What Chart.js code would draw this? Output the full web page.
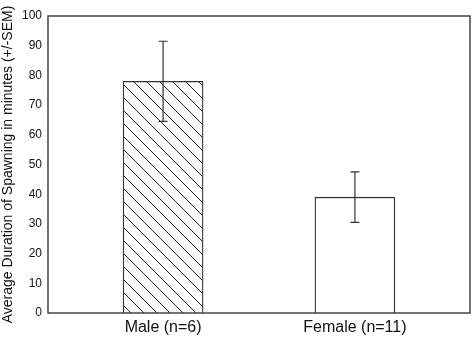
<!DOCTYPE html>
<html>
<head>
<meta charset="utf-8">
<script src="https://cdn.jsdelivr.net/npm/chart.js@4"></script>
<style>
  html, body { margin: 0; padding: 0; background: #fff; }
  #wrap { width: 474px; height: 338px; }
</style>
</head>
<body>
<div id="wrap"><canvas id="chart"></canvas></div>
<script>
const categories = ["Male (n=6)", "Female (n=11)"];
const means = [78, 39];
const sems = [13.5, 8.5];
const yTicks = [0, 10, 20, 30, 40, 50, 60, 70, 80, 90, 100];

const AXIS_COLOR = "#444";
const FONT = "'Liberation Sans', Arial, sans-serif";

// diagonal hatch for the first bar
function makeHatch() {
    const size = 13;
    const c = document.createElement("canvas");
    c.width = size;
    c.height = size;
    const g = c.getContext("2d");
    g.fillStyle = "#fff";
    g.fillRect(0, 0, size, size);
    g.strokeStyle = "#222";
    g.lineWidth = 1;
    g.beginPath();
    g.moveTo(-2, -2); g.lineTo(size + 2, size + 2);
    g.moveTo(-2, size - 2); g.lineTo(2, size + 2);
    g.moveTo(size - 2, -2); g.lineTo(size + 2, 2);
    g.stroke();
    return g.createPattern(c, "repeat");
}

const errorBars = {
    id: "errorBars",
    afterDatasetsDraw(chart) {
        const ctx = chart.ctx;
        const x = chart.scales.x, y = chart.scales.y;
        ctx.save();
        ctx.strokeStyle = "#333";
        ctx.lineWidth = 1.2;
        means.forEach((m, i) => {
            const px = x.getPixelForValue(i);
            const top = y.getPixelForValue(m + sems[i]);
            const bot = y.getPixelForValue(m - sems[i]);
            ctx.beginPath();
            ctx.moveTo(px, top); ctx.lineTo(px, bot);
            ctx.moveTo(px - 4.5, top); ctx.lineTo(px + 4.5, top);
            ctx.moveTo(px - 4.5, bot); ctx.lineTo(px + 4.5, bot);
            ctx.stroke();
        });
        ctx.restore();
    }
};

const frame = {
    id: "frame",
    afterDraw(chart) {
        const a = chart.chartArea, ctx = chart.ctx;
        ctx.save();
        ctx.strokeStyle = AXIS_COLOR;
        ctx.lineWidth = 1.5;
        ctx.strokeRect(a.left, a.top, a.right - a.left, a.bottom - a.top);
        ctx.restore();
    }
};

new Chart(document.getElementById("chart"), {
    type: "bar",
    data: {
        datasets: [{
            data: means.map((v, i) => ({ x: i, y: v })),
            backgroundColor: [makeHatch(), "#fff"],
            borderColor: "#333",
            borderWidth: 1.3,
            barThickness: 80
        }]
    },
    options: {
        responsive: true,
        maintainAspectRatio: false,
        animation: false,
        layout: { padding: { top: 16, right: 4, left: 0, bottom: 0 } },
        plugins: { legend: { display: false }, tooltip: { enabled: false } },
        scales: {
            x: {
                type: "linear",
                offset: false,
                min: -0.6,
                max: 1.6,
                afterBuildTicks: (s) => { s.ticks = categories.map((c, i) => ({ value: i })); },
                afterFit: (s) => { s.height = 25; },
                grid: { display: false, drawTicks: false, offset: false },
                border: { display: false },
                ticks: {
                    callback: (v) => categories[v],
                    color: "#111",
                    font: { family: FONT, size: 16 },
                    padding: 5,
                    maxRotation: 0
                }
            },
            y: {
                min: 0,
                max: 100,
                afterBuildTicks: (s) => { s.ticks = yTicks.map(v => ({ value: v })); },
                afterFit: (s) => { s.width = 48; },
                grid: { display: false, drawTicks: true, tickLength: 5, tickColor: AXIS_COLOR, tickWidth: 1.3, drawOnChartArea: false },
                border: { display: false },
                ticks: {
                    color: "#111",
                    font: { family: FONT, size: 12 },
                    padding: 1
                },
                title: {
                    display: true,
                    text: "Average Duration of Spawning in minutes (+/-SEM)",
                    color: "#111",
                    font: { family: FONT, size: 14 },
                    padding: { top: 0, bottom: 0 }
                }
            }
        }
    },
    plugins: [errorBars, frame]
});
</script>
</body>
</html>
